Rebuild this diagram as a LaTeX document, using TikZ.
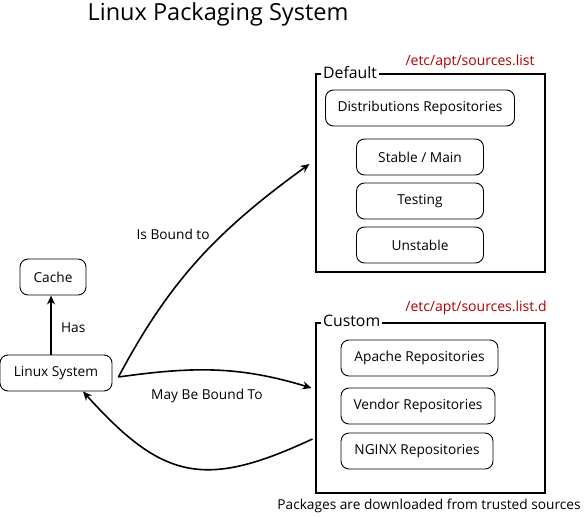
\documentclass[tikz,border=0pt]{standalone}
\usepackage{fontspec}
\setmainfont{Open Sans}
\usetikzlibrary{arrows.meta,positioning}

\tikzset{
    repo/.style={draw, rounded corners=8pt, line width=0.9pt, minimum height=36pt, font=\fontsize{13.7}{16}\selectfont},
    frame/.style={draw, line width=1.1pt},
    framelabel/.style={fill=white, inner sep=2pt, font=\fontsize{15.8}{18}\selectfont},
    path/.style={text=red!70!black, font=\fontsize{14}{16}\selectfont},
    link/.style={-{Stealth[length=9pt,width=8pt]}, line width=1.6pt},
    lbl/.style={font=\fontsize{13.7}{16}\selectfont}
}

\begin{document}
\begin{tikzpicture}[x=1pt, y=-1pt]
    \useasboundingbox (0,0) rectangle (585,516);

    % Title
    \node (title) at (218,14) {\fontsize{23.5}{26}\selectfont Linux Packaging System};

    % Default sources
    \node[frame, minimum width=229pt, minimum height=198pt] (default) at (430.5,173) {};
    \node[framelabel, anchor=west] (defaultlbl) at (321,73) {Default};
    \node[path] (defaultpath) at (470,62) {/etc/apt/sources.list};

    \node[repo, minimum width=189pt] (distro) at (420,108) {Distributions Repositories};
    \node[repo, minimum width=127pt] (stable) at (420,157) {Stable / Main};
    \node[repo, minimum width=127pt] (testing) at (420,201) {Testing};
    \node[repo, minimum width=127pt] (unstable) at (420,245) {Unstable};

    % Custom sources
    \node[frame, minimum width=229pt, minimum height=170pt] (custom) at (430.5,408) {};
    \node[framelabel, anchor=west] (customlbl) at (321,321) {Custom};
    \node[path] (custompath) at (476,308) {/etc/apt/sources.list.d};

    \node[repo, minimum width=157pt] (apache) at (419.5,358) {Apache Repositories};
    \node[repo, minimum width=154pt] (vendor) at (418,406) {Vendor Repositories};
    \node[repo, minimum width=152pt] (nginx) at (417,451) {NGINX Repositories};

    \node[lbl] (note) at (429,506) {Packages are downloaded from trusted sources};

    % Local system
    \node[repo, minimum width=66pt] (cache) at (53,277) {Cache};
    \node[repo, minimum width=112pt] (linux) at (56,373) {Linux System};

    % Links
    \draw[link] (linux.north -| 51,0) -- node[lbl, right=6pt, yshift=-3pt] {Has} (cache.south -| 51,0);
    \draw[link] ([xshift=6pt,yshift=-4pt]linux.east) to[out=62, in=216]
        node[lbl, pos=0.5, above left=14pt and -14pt] {Is Bound to} ([xshift=-6pt,yshift=9pt]default.west);
    \draw[link] ([xshift=6pt,yshift=-4pt]linux.east) to[out=8, in=163]
        node[lbl, below=15pt, pos=0.45] {May Be Bound To} ([xshift=-4pt,yshift=20pt]custom.west);
    \draw[link] ([xshift=-3pt,yshift=-31pt]custom.west) to[out=205, in=-48, looseness=1.3] ([xshift=27pt]linux.south);
\end{tikzpicture}
\end{document}
